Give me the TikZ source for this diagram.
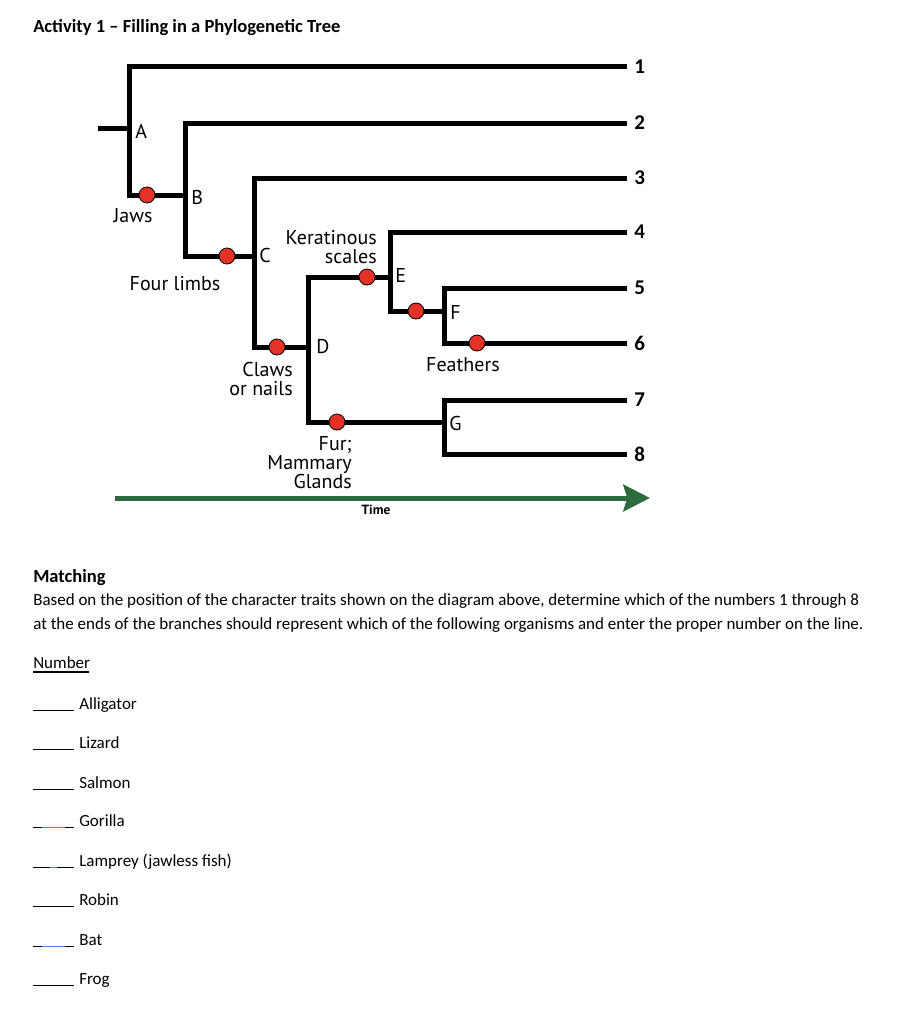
\documentclass[tikz,border=0pt]{standalone}
\usepackage{fontspec}
\setmainfont{Carlito}
\newfontfamily\treefont{PT Sans}
\usetikzlibrary{arrows.meta}
\definecolor{dotred}{HTML}{E53227}
\definecolor{timegreen}{HTML}{2D6B3C}
\definecolor{blankblue}{HTML}{4A86E8}
\begin{document}
\begin{tikzpicture}[x=0.75pt,y=-0.75pt,
  branch/.style={line width=3.75pt, line join=miter},
  traitdot/.style={circle, fill=dotred, draw=black, line width=0.6pt, minimum size=12pt, inner sep=0pt},
  letter/.style={font=\treefont\fontsize{15}{15}\selectfont, inner sep=0pt, anchor=west},
  trait/.style={font=\treefont\fontsize{15}{13.1}\selectfont, inner sep=0pt},
  tipnum/.style={font=\bfseries\fontsize{15.75}{16}\selectfont, inner sep=0pt, anchor=west},
  timearrow/.style={line width=3.75pt, draw=timegreen, -{Stealth[length=20pt, width=20pt, inset=3pt]}},
  heading/.style={font=\bfseries\fontsize{13.9}{16}\selectfont, inner sep=0pt, anchor=base west},
  body/.style={font=\fontsize{12.75}{15}\selectfont, inner sep=0pt, anchor=base west},
  blank/.style={line width=0.9pt},
  blankb/.style={line width=0.9pt, draw=blankblue}
]
\fill[white] (0,0) rectangle (908,1024);
\useasboundingbox (0,0) rectangle (908,1024);

% title
\node[heading] (title) at (33,33) {Activity 1 -- Filling in a Phylogenetic Tree};

% tips
\coordinate (t1) at (627,67);
\coordinate (t2) at (627,123);
\coordinate (t3) at (627,178);
\coordinate (t4) at (627,232);
\coordinate (t5) at (627,288);
\coordinate (t6) at (627,343);
\coordinate (t7) at (627,400);
\coordinate (t8) at (627,454);
% internal nodes
\coordinate (root) at (98,128);
\coordinate (A) at (129,128);
\coordinate (B) at (185,195);
\coordinate (C) at (254,256);
\coordinate (D) at (308,347);
\coordinate (E) at (390,277);
\coordinate (F) at (444,311);
\coordinate (G) at (444,422);

\draw[branch] (root) -- (A);
\draw[branch] (t1) -| (A) |- (B);
\draw[branch] (t2) -| (B) |- (C);
\draw[branch] (t3) -| (C) |- (D);
\draw[branch] (E) -| (D) |- (G);
\draw[branch] (t4) -| (E) |- (F);
\draw[branch] (t5) -| (F) |- (t6);
\draw[branch] (t7) -| (G) |- (t8);

% tip numbers
\node[tipnum] (n1) at (634,67) {1};
\node[tipnum] (n2) at (634,123) {2};
\node[tipnum] (n3) at (634,178) {3};
\node[tipnum] (n4) at (634,232) {4};
\node[tipnum] (n5) at (634,288) {5};
\node[tipnum] (n6) at (634,343) {6};
\node[tipnum] (n7) at (634,400) {7};
\node[tipnum] (n8) at (634,454) {8};

% trait dots
\node[traitdot] (dJaws) at (147,195) {};
\node[traitdot] (dLimbs) at (227,256) {};
\node[traitdot] (dClaws) at (277,347) {};
\node[traitdot] (dKer) at (367,277) {};
\node[traitdot] (dEF) at (416,311) {};
\node[traitdot] (dFeath) at (477,343) {};
\node[traitdot] (dFur) at (337,422) {};

% node letters
\node[letter] (lA) at (135,131) {A};
\node[letter] (lB) at (191,197) {B};
\node[letter] (lC) at (259,255) {C};
\node[letter] (lD) at (316,347) {D};
\node[letter] (lE) at (395,275) {E};
\node[letter] (lF) at (450,312) {F};
\node[letter] (lG) at (449,423) {G};

% trait labels
\node[trait, anchor=base] (tJaws) at (133,222) {Jaws};
\node[trait, anchor=base] (tLimbs) at (175,290) {Four limbs};
\node[trait, anchor=base east] (tKer) at (377,244)
  {\begin{tabular}[t]{@{}r@{}}Keratinous\\ scales\end{tabular}};
\node[trait, anchor=base east] (tClaw) at (293,376)
  {\begin{tabular}[t]{@{}r@{}}Claws\\ or nails\end{tabular}};
\node[trait, anchor=base] (tFeath) at (463,371) {Feathers};
\node[trait, anchor=base east] (tFur) at (352,450)
  {\begin{tabular}[t]{@{}r@{}}Fur;\hspace{2pt}\\ Mammary\\ Glands\end{tabular}};

% time arrow
\coordinate (ts) at (115,498);
\coordinate (te) at (650,498);
\draw[timearrow] (ts) -- (te);
\node[font=\treefont\bfseries\fontsize{10}{12}\selectfont, inner sep=0pt] (time) at (376,510) {Time};

% matching section
\node[heading] (match) at (33,582) {Matching};
\node[body] (p1) at (33,605) {Based on the position of the character traits shown on the diagram above, determine which of the numbers 1 through 8};
\node[body] (p2) at (33,629) {at the ends of the branches should represent which of the following organisms and enter the proper number on the line.};
\node[body] (num) at (33,668) {Number};
\draw[blank] (num.base west) ++(0,4) -- ++(56,0);

\node[body] (o1) at (79,709) {Alligator};
\node[body] (o2) at (79,748) {Lizard};
\node[body] (o3) at (79,788) {Salmon};
\node[body] (o4) at (79,826) {Gorilla};
\node[body] (o5) at (79,866) {Lamprey (jawless fish)};
\node[body] (o6) at (79,905) {Robin};
\node[body] (o7) at (79,945) {Bat};
\node[body] (o8) at (79,984) {Frog};
\foreach \o in {o1,o2,o3,o4,o5,o6,o7,o8}{
  \draw[blank] (\o.base west) ++(-46,1.5) -- ++(41,0);
}
\draw[blankb] (o4.base west) ++(-37,1.5) -- ++(23,0);
\draw[blankb] (o5.base west) ++(-29,1.5) -- ++(7,0);
\draw[blankb] (o7.base west) ++(-37,1.5) -- ++(23,0);
\end{tikzpicture}
\end{document}
